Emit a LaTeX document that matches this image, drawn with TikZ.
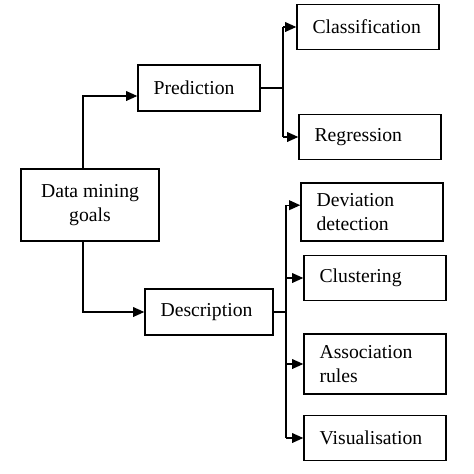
\documentclass[tikz,border=0pt]{standalone}
\usepackage{fontspec}
\setmainfont{Liberation Serif}
\usetikzlibrary{arrows.meta}
\tikzset{
  gbox/.style  = {draw, line width=1pt, inner xsep=0.39cm, inner ysep=2pt,
                  align=left, font=\fontsize{14}{17}\selectfont},
  groot/.style = {gbox, align=center, minimum width=3.45cm, minimum height=1.8cm},
  gmid/.style  = {gbox, minimum height=1.15cm},
  % Leaves: fixed text width so the labels sit at the left edge.
  gleaf/.style = {gbox, text width=2.77cm, minimum height=1.12cm},
  link/.style  = {line width=0.8pt},
  fork/.style  = {line width=1.5pt},
  arr/.style   = {link, -{Triangle[length=8pt, width=7pt]}},
}

\begin{document}
\begin{tikzpicture}[x=0.025cm, y=-0.025cm]
    \useasboundingbox (0,0) rectangle (474,474);

    \node[groot] (goal) at (90, 205) {Data mining\\goals};

    \node[gmid, text width=2.27cm] (pred) at (199, 88)  {Prediction};
    \node[gmid, text width=2.42cm] (desc) at (209, 312) {Description};

    \node[gleaf] (cls) at (368, 27)  {Classification};
    \node[gleaf] (reg) at (370, 137) {Regression};
    \node[gleaf, minimum height=1.45cm] (dev) at (372, 212) {Deviation\\detection};
    \node[gleaf] (clu) at (375, 278) {Clustering};
    \node[gleaf, minimum height=1.5cm] (ass) at (375, 364) {Association\\rules};
    \node[gleaf] (vis) at (375, 438) {Visualisation};

    \coordinate (pfork) at (283, 88);
    \coordinate (dfork) at (286, 312);
    \coordinate (devin) at ([yshift=0.17cm]dev.west);

    \draw[arr] ([xshift=-0.175cm]goal.north) |- ([yshift=-0.2cm]pred.west);
    \draw[arr] ([xshift=-0.175cm]goal.south) |- (desc.west);

    \draw[link] (pred.east) -- (pfork);
    \draw[fork] (pfork |- cls.west) -- (pfork |- reg.west);
    \draw[arr] (pfork |- cls.west) -- (cls.west);
    \draw[arr] (pfork |- reg.west) -- (reg.west);

    \draw[link] (desc.east) -- (dfork);
    \draw[fork] (dfork |- devin) -- (dfork |- vis.west);
    \draw[arr] (dfork |- devin) -- (devin);
    \draw[arr] (dfork |- clu.west) -- (clu.west);
    \draw[arr] (dfork |- ass.west) -- (ass.west);
    \draw[arr] (dfork |- vis.west) -- (vis.west);
  \end{tikzpicture}
\end{document}
